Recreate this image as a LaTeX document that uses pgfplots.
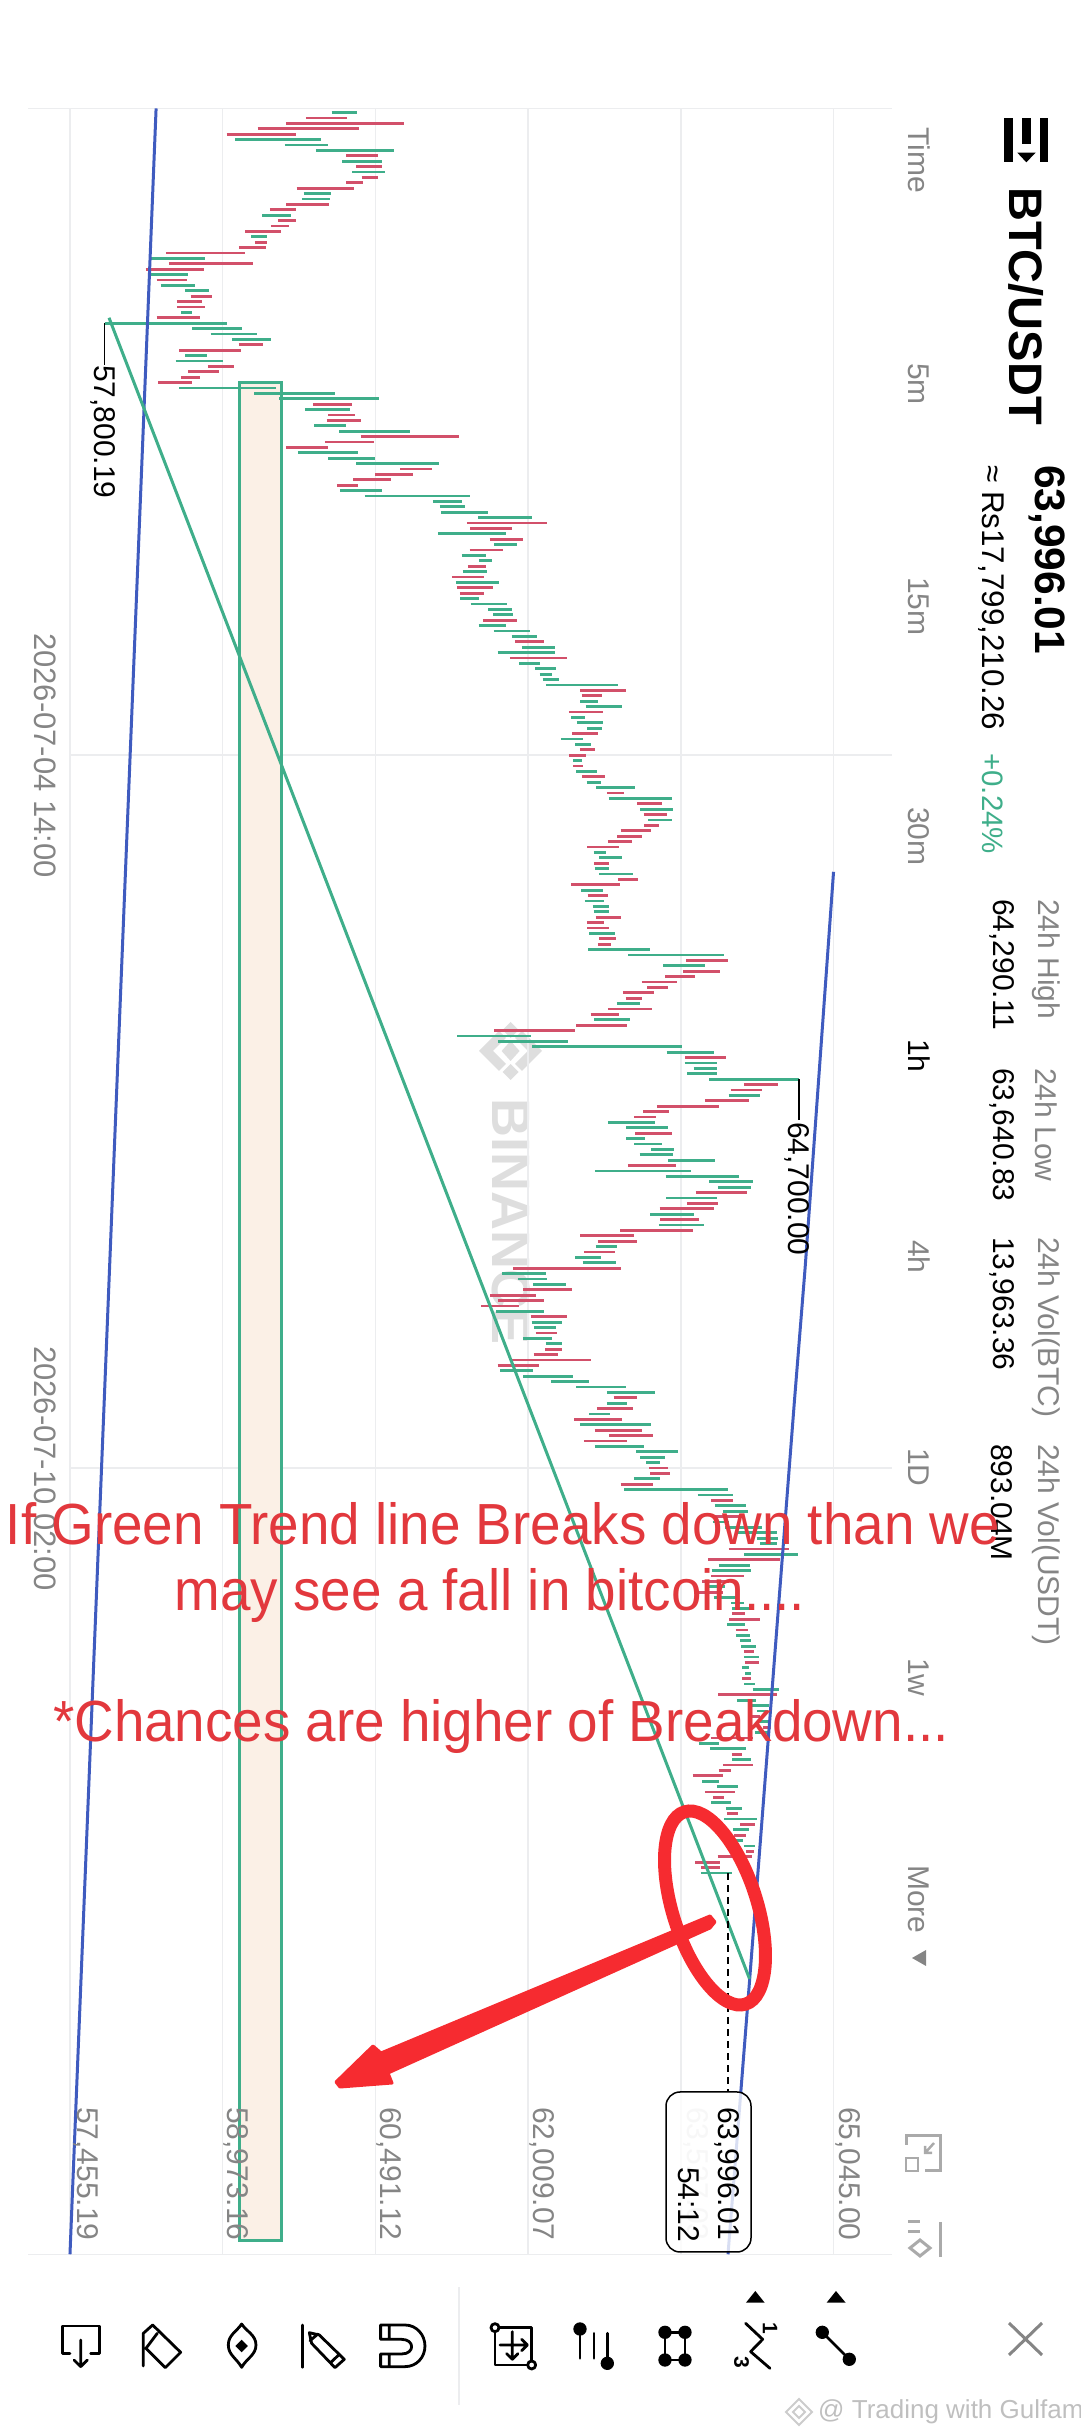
\documentclass[border=0pt]{standalone}
\usepackage{pgfplots}
\usepackage{pgfplotstable}
\usepackage{fontspec}
\setmainfont{Liberation Sans}
\pgfplotsset{compat=1.18}
\definecolor{cgreen}{HTML}{3FAE8A}
\definecolor{cred}{HTML}{D2506A}
\definecolor{cblue}{HTML}{3F5BBF}
\definecolor{cgrid}{HTML}{ECEDEF}
\definecolor{cgrey}{HTML}{858585}
\definecolor{cwm}{HTML}{DEDEDE}
\definecolor{cann}{HTML}{E2383D}
\definecolor{cmark}{HTML}{F62B30}
\definecolor{czone}{HTML}{FBF0E6}
\newcommand\fs[1]{\fontsize{#1}{#1}\selectfont}
\pgfplotstableread{
i lo hi
0 60057 60309
5 59099 59955
6 59589 60023
7 59898 60679
9 60160 60554
11 60263 60582
15 59778 60046
16 59761 60040
19 59367 59652
23 59258 59413
27 58243 58802
30 58254 58625
32 58357 58693
33 58596 58836
37 58562 58665
39 57800 59019
40 58671 59167
41 58853 59316
42 59065 59453
45 58602 58819
46 58505 58979
51 58540 59504
52 59287 60086
53 59532 60531
55 59795 60234
58 59881 60194
59 60132 60839
63 59721 60320
64 60023 60491
65 60303 61119
70 60137 60554
71 60383 61433
72 61062 61347
73 61130 61381
74 61147 61610
75 61513 62049
78 61113 61787
80 61672 61895
82 61347 61587
83 61524 61650
85 61359 61598
87 61290 61724
90 61336 61524
91 61438 61804
92 61615 61844
93 61661 61861
95 61518 61787
96 61667 62032
97 61844 62100
99 61946 62277
100 61707 62277
102 61918 62123
103 62078 62289
104 62123 62249
105 62152 62312
106 62186 62905
109 62528 62705
110 62580 62939
112 62437 62574
113 62494 62751
114 62597 62745
116 62334 62557
117 62477 62631
120 62454 62540
122 62488 62694
124 62591 62734
125 62688 63071
127 62808 63436
129 63126 63453
131 63202 63442
137 62661 62787
138 62715 62947
140 62669 62814
141 62718 63053
144 62536 62749
146 62570 62768
147 62650 62814
148 62661 62814
152 62616 62875
155 62608 63217
156 63004 63960
158 63354 63765
165 62890 63118
168 62665 63023
171 61306 62033
172 61709 62406
173 62048 63541
174 63385 63861
176 63564 63884
177 63655 63884
178 63590 63887
179 63811 64700
182 64002 64310
187 62802 63274
188 62985 63396
190 62985 63175
191 63065 63339
192 63229 63461
193 63118 63446
194 63400 63864
196 62673 63628
197 63377 64101
198 63811 64241
199 63895 64226
201 63381 63887
204 63221 63655
206 63309 63754
210 62680 62894
212 62479 62737
213 62551 62886
215 61747 62185
216 61904 62193
217 62056 62387
222 61694 62162
224 62044 62345
225 62071 62288
227 61957 62246
228 62182 62345
233 61732 62060
234 61961 62452
235 62235 62619
236 62486 62977
237 62791 63274
239 62791 62996
241 62616 62825
243 62524 63232
247 62669 63160
248 63084 63495
249 63126 63369
250 63183 63324
253 63061 63316
255 62966 63998
256 63693 64043
258 63862 64173
259 63945 64197
261 63842 64008
262 63968 64332
263 64100 64482
264 64283 64488
265 64316 64482
267 64153 64690
269 63902 64210
270 63832 64220
273 63779 63968
275 63852 64100
276 64028 64150
277 64034 64200
280 63984 64163
282 64077 64213
283 64120 64220
284 64127 64273
286 64157 64299
288 64134 64203
289 64167 64220
291 64157 64266
292 64240 64502
294 64084 64273
295 64216 64399
296 64289 64392
298 64299 64389
300 64266 64415
302 63706 63905
303 63815 64170
305 64037 64220
309 63742 63905
310 63885 64097
313 63829 64028
314 63975 64134
316 63961 64286
318 64044 64203
320 64067 64144
321 64150 64266
326 63726 64034
}\greentab
\pgfplotstableread{
i lo hi
1 59801 60211
2 59601 60776
3 59321 60331
4 59013 59698
8 60200 60520
10 60297 60554
12 60354 60514
13 60200 60371
14 59709 60274
17 59607 60029
18 59441 59698
20 59521 59704
21 59453 59629
22 59196 59550
24 59293 59418
25 59133 59407
26 58408 59190
28 58437 59270
29 58208 58791
31 58317 58614
34 58654 58870
35 58517 58768
36 58517 58802
38 58317 58745
43 59133 59373
44 58540 59156
47 58825 59087
48 58631 58939
49 58557 58751
50 58334 58671
54 59869 60263
56 60023 60291
57 60006 60349
60 60343 61324
61 59989 60474
62 59601 60023
66 60737 61050
67 60491 60868
68 60269 60645
69 60109 60314
76 61399 62197
77 61433 61844
79 61627 61958
81 61427 61758
84 61410 61593
86 61250 61575
88 61302 61661
89 61330 61570
94 61558 61895
98 61878 62169
101 61827 62397
107 62523 62979
108 62540 62745
111 62414 62751
115 62449 62700
118 62523 62671
119 62420 62580
121 62460 62557
123 62546 62774
126 62791 62962
128 63095 63343
130 63156 63385
132 63164 63305
133 62928 63232
134 62894 63137
135 62802 63038
136 62597 62916
139 62665 62810
142 62901 63099
143 62437 62924
145 62600 62806
149 62680 62935
150 62593 62768
151 62597 62814
153 62715 62882
154 62703 62829
157 63579 63994
159 63552 63914
160 63373 63663
161 63137 63488
162 63191 63396
163 62951 63263
164 62977 63145
166 62802 63240
167 62631 62909
169 62486 62996
170 61671 62479
175 63571 63971
180 64154 64497
181 64021 64333
183 63769 64200
184 63290 63903
185 63152 63408
186 63065 63282
189 63073 63438
195 63000 63476
200 63674 64181
202 63587 63899
203 63316 63861
205 63320 63705
207 62924 63644
208 62528 63061
209 62703 63088
211 62562 62871
214 61858 62935
218 61957 62444
219 61633 62083
220 61709 62166
221 61542 61919
223 62033 62391
226 62083 62300
229 62178 62341
230 62063 62303
231 61839 62635
232 61706 62117
238 62859 63095
240 62692 63050
242 62467 62947
244 62669 63137
245 62817 63255
246 62562 62993
251 63213 63396
252 63225 63415
254 62928 63248
257 63825 64044
260 63842 64157
266 64001 64604
268 63796 64515
271 63829 64153
272 63736 64008
274 63653 63945
278 64034 64167
279 64008 64309
281 64071 64193
285 64153 64253
287 64160 64299
290 64134 64220
293 63898 64482
297 64233 64316
299 64342 64422
301 63825 64243
304 64031 64134
306 63945 64243
307 63902 64024
308 63643 63951
311 63766 64061
312 63845 63958
315 63988 64094
317 64120 64263
319 64057 64173
322 64177 64253
323 63892 64230
324 63670 63921
325 63729 63915
}\redtab
\begin{document}
\begin{tikzpicture}
\useasboundingbox (0,0) rectangle (1080pt,2436pt);
% watermark behind the chart
\begin{scope}[x=1pt,y=-1pt,yshift=2436pt]
\fill[cwm] (510.6,1041) -- (519.6,1051) -- (510.6,1061) -- (501.6,1051) -- cycle;
\fill[cwm] (510.6,1022) -- (518.6,1030) -- (510.6,1038) -- (502.6,1030) -- cycle;
\fill[cwm] (510.6,1064) -- (518.6,1072) -- (510.6,1080) -- (502.6,1072) -- cycle;
\fill[cwm] (479,1051) -- (499,1031) -- (506,1038) -- (493,1051) -- (506,1064) -- (499,1071) -- cycle;
\fill[cwm] (542,1051) -- (522,1031) -- (515,1038) -- (528,1051) -- (515,1064) -- (522,1071) -- cycle;
\node[rotate=-90,anchor=west,inner sep=0pt,text=cwm,font=\bfseries\fs{54}] at (511,1098) {BINANCE};
\end{scope}
\begin{axis}[
  at={(0,0)},anchor=south west,scale only axis,
  width=1080pt,height=2436pt,
  hide axis,
  xmin=56759.4,xmax=67495,
  ymin=-20.85,ymax=430.26,y dir=reverse,
]
% grid
\addplot[cgrid,line width=1.5pt,forget plot] coordinates {(57455.19,-0.76)(57455.19,396.6)};
\addplot[cgrid,line width=1.5pt,forget plot] coordinates {(58973.16,-0.76)(58973.16,396.6)};
\addplot[cgrid,line width=1.5pt,forget plot] coordinates {(60491.12,-0.76)(60491.12,396.6)};
\addplot[cgrid,line width=1.5pt,forget plot] coordinates {(62009.07,-0.76)(62009.07,396.6)};
\addplot[cgrid,line width=1.5pt,forget plot] coordinates {(63527.03,-0.76)(63527.03,396.6)};
\addplot[cgrid,line width=1.5pt,forget plot] coordinates {(65045.00,-0.76)(65045.00,396.6)};
\addplot[cgrid,line width=1.5pt,forget plot] coordinates {(57038,-0.76)(65626,-0.76)};
\addplot[cgrid,line width=1.5pt,forget plot] coordinates {(57455.19,119)(65626,119)};
\addplot[cgrid,line width=1.5pt,forget plot] coordinates {(57455.19,251)(65626,251)};
\addplot[cgrid,line width=1.5pt,forget plot] coordinates {(57038,396.6)(65626,396.6)};
% zone
\addplot[draw=cgreen,fill=czone,line width=3pt,forget plot] coordinates {(59144,50)(59561,50)(59561,394.1)(59144,394.1)} -- cycle;
% candles
\addplot[forget plot,draw=none,no marks,error bars/.cd,x dir=plus,x explicit,error mark=none,error bar style={line width=2.7pt,color=cgreen}] table[x=lo,y=i,x error expr=\thisrow{hi}-\thisrow{lo}] {\greentab};
\addplot[forget plot,draw=none,no marks,error bars/.cd,x dir=plus,x explicit,error mark=none,error bar style={line width=2.7pt,color=cred}] table[x=lo,y=i,x error expr=\thisrow{hi}-\thisrow{lo}] {\redtab};
% trend lines
\addplot[cblue,line width=3pt,forget plot] coordinates {(58311,-0.76)(57455,396.6)};
\addplot[cblue,line width=3pt,forget plot] coordinates {(65045,140.6)(64763,213.8)(64657,238.4)(64200,348.4)(64123,366.6)(63996,396.6)};
\addplot[cgreen,line width=3pt,forget plot] coordinates {(57843,38)(64210,345.6)};
% leaders
\addplot[black,line width=1.5pt,forget plot] coordinates {(57800.19,39)(57800.19,46.7)};
\addplot[black,line width=1.5pt,forget plot] coordinates {(64700,179)(64700,186.6)};
\addplot[black,line width=1.5pt,dash pattern=on 7pt off 5pt,forget plot] coordinates {(63996.01,326)(63996.01,366.6)};
\end{axis}
\begin{scope}[x=1pt,y=-1pt,yshift=2436pt]
\tikzset{vt/.style={rotate=-90,anchor=west,inner sep=0pt},
         ic/.style={line width=2.8pt,line join=round,line cap=round,black},
         ann/.style={anchor=base,inner sep=0pt,text=cann,font=\fs{58},xscale=0.945}}
% price axis labels
\foreach \x/\t in {86/57{,}455.19,236/58{,}973.16,389/60{,}491.12,542/62{,}009.07,848.5/65{,}045.00}{
  \node[vt,text=cgrey,font=\fs{30}] at (\x,2107) {\t};}
\node[vt,text=black!15,font=\fs{30}] at (695.6,2107) {63,527.03};
% date labels
\node[vt,text=cgrey,font=\fs{31}] at (45,633) {2026-07-04 14:00};
\node[vt,text=cgrey,font=\fs{31}] at (45,1346) {2026-07-10 02:00};
% high/low labels
\node[vt,text=black,font=\fs{30}] at (103,365) {57,800.19};
\node[vt,text=black,font=\fs{30}] at (797.5,1122) {64,700.00};
% last price tag
\draw[black,line width=1.5pt,fill=white,fill opacity=.8,rounded corners=14pt] (666,2092) rectangle (751,2252);
\node[vt,text=black,font=\fs{30}] at (726.6,2107) {63,996.01};
\node[vt,text=black,font=\fs{30}] at (689,2167) {54:12};
% time-frame column
\foreach \y/\t in {127/Time,363/5m,577/15m,807/30m,1240/4h,1448/1D,1658/1w,1865/More}{
  \node[vt,text=cgrey,font=\fs{30}] at (919,\y) {\t};}
\node[vt,text=black,font=\fs{30}] at (919,1039) {1h};
\fill[cgrey] (912,1958) -- (926,1950) -- (926,1966) -- cycle;
% header
\fill[black] (1004,118.3) rectangle (1013.3,162.3);
\fill[black] (1040,118.3) rectangle (1048.3,162.3);
\fill[black] (1022.3,118.3) rectangle (1030.7,144);
\fill[black] (1017.3,152.7) -- (1035.7,152.7) -- (1026.3,162.3) -- cycle;
\node[vt,text=black,font=\bfseries\fs{47}] at (1026,187) {BTC/USDT};
\node[vt,text=black,font=\bfseries\fs{42.5}] at (1047.5,465) {63,996.01};
\node[vt,text=black,font=\fs{31.4}] at (991.7,465) {≈ Rs17,799,210.26};
\node[vt,text=cgreen,font=\fs{29.5}] at (993,753) {+0.24\%};
\foreach \y/\a/\b in {899/24h High/64{,}290.11,1068/24h Low/63{,}640.83,1237/24h Vol(BTC)/13{,}963.36,1444/24h Vol(USDT)/893.04M}{
  \node[vt,text=cgrey,font=\fs{30}] at (1046,\y) {\a};
  \node[vt,text=black,font=\fs{30}] at (1001.7,\y) {\b};}
% annotation text
\node[ann] at (503,1545) {If Green Trend line Breaks down than we};
\node[ann] at (490,1611) {may see a fall in bitcoin....};
\node[ann] at (501,1742) {*Chances are higher of Breakdown...};
% ellipse and arrow
\draw[cmark,line width=13pt,rotate around={-72.4:(715,1908)}] (715,1908) ellipse [x radius=100.9,y radius=42.2];
\fill[cmark,draw=cmark,line width=3pt,line join=round] (710,1916) -- (715,1922) -- (710,1928) -- (388,2073) -- (392,2083) -- (340,2087) -- (336,2082) -- (373,2046) -- (381,2053) -- cycle;
% right small icons
\draw[cgrey!70,line width=3pt] (906,2145) -- (906,2136) -- (940,2136) -- (940,2171) -- (925,2171);
\draw[cgrey!70,line width=2.5pt] (906,2158) rectangle (918,2171);
\draw[cgrey!70,line width=2.5pt] (934,2143) -- (925,2153) (925,2146) -- (925,2153) -- (932,2153);
\draw[cgrey!70,line width=3pt] (908,2222) -- (920,2222) (908,2232) -- (920,2232) (940,2222) -- (940,2257);
\draw[cgrey!70,line width=3pt] (920,2240) -- (930,2248) -- (920,2256) -- (910,2248) -- cycle;
% bottom toolbar
\draw[cgrid,line width=1.5pt] (459,2287) -- (459,2405);
\begin{scope}[shift={(40,2300)},x=0.3333pt,y=-0.3333pt]
\draw[ic] (90,160) -- (68,160) -- (68,78) -- (178,78) -- (178,160) -- (152,160);
\draw[ic] (122,120) -- (122,200) (102,180) -- (122,200) -- (142,180);
\draw[ic] (310,198) -- (310,100) -- (338,75) -- (422,157) -- (376,203) -- (318,145) -- (352,100);
\draw[ic] (605,72) .. controls (590,95) and (565,105) .. (565,135) .. controls (565,165) and (590,175) .. (605,202) .. controls (620,175) and (648,165) .. (648,135) .. controls (648,105) and (620,95) .. (605,72) -- cycle;
\fill[black] (605,119) -- (624,138) -- (605,157) -- (586,138) -- cycle;
\draw[ic] (788,75) -- (788,202);
\draw[ic] (808,98) -- (838,105) -- (913,178) -- (885,203) -- (815,130) -- cycle (810,122) -- (834,102) (872,188) -- (898,163);
\draw[ic] (1022,75) -- (1095,75) .. controls (1130,75) and (1155,105) .. (1155,138) .. controls (1155,172) and (1130,200) .. (1095,200) -- (1022,200) -- (1022,162) -- (1085,162) .. controls (1125,162) and (1125,118) .. (1085,118) -- (1022,118) -- cycle (1048,75) -- (1048,118) (1048,162) -- (1048,200);
\end{scope}
\begin{scope}[shift={(480,2280)},x=0.3333pt,y=-0.3333pt]
\draw[ic] (45,143) -- (155,143) -- (155,255) -- (45,255) -- cycle;
\draw[ic,fill=white] (45,143) circle (12);
\draw[ic,fill=white] (155,255) circle (12);
\draw[ic] (60,195) -- (142,195) (125,178) -- (142,195) -- (125,212) (97,155) -- (97,238) (80,221) -- (97,238) -- (114,221);
\draw[ic] (300,147) -- (300,235) (342,160) -- (342,235) (382,160) -- (382,250);
\fill[black] (300,147) circle (20) (382,250) circle (20);
\draw[ic] (555,157) -- (615,157) -- (615,240) -- (555,240) -- cycle;
\fill[black] (555,157) circle (20) (615,157) circle (20) (555,240) circle (20) (615,240) circle (20);
\draw[ic] (797,130) -- (848,178) -- (812,215) -- (870,265);
\node[rotate=-90,inner sep=0pt,font=\bfseries\fs{21}] at (870,146) {1};
\node[rotate=-90,inner sep=0pt,font=\bfseries\fs{21}] at (785,246) {3};
\fill[black] (798,68) -- (854,68) -- (826,33) -- cycle;
\draw[ic] (1027,157) -- (1108,238);
\fill[black] (1027,157) circle (20) (1108,238) circle (20);
\fill[black] (1040,68) -- (1097,68) -- (1068,33) -- cycle;
\end{scope}
\draw[cgrey,line width=3pt] (1009,2323) -- (1042,2355) (1042,2323) -- (1009,2355);
% author credit
\draw[black!20,line width=2pt] (799,2399) -- (812,2412) -- (799,2425) -- (786,2412) -- cycle (799,2406) -- (805,2412) -- (799,2418) -- (793,2412) -- cycle;
\node[anchor=west,inner sep=0pt,text=black!25,font=\fs{26}] at (818,2412) {@ Trading with Gulfam};
\end{scope}
\end{tikzpicture}
\end{document}
